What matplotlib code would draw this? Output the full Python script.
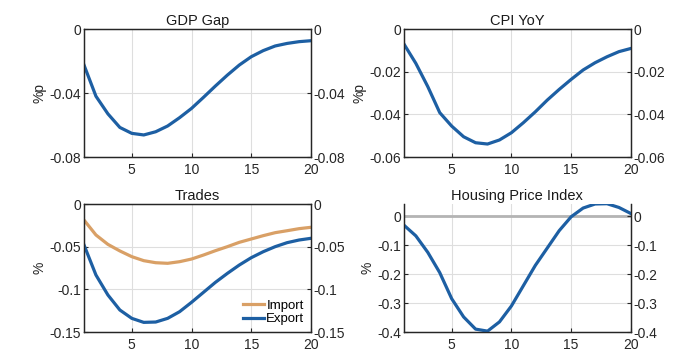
import numpy as np
import matplotlib
matplotlib.use("Agg")
import matplotlib.pyplot as plt

plt.rcParams['font.family'] = ['Liberation Sans', 'DejaVu Sans']

# horizon (quarters)
x = np.arange(1, 21)

# impulse responses
gdp_gap = [-0.0225, -0.042, -0.053, -0.0615, -0.0652, -0.0662, -0.0642, -0.0606, -0.0554, -0.0496,
           -0.0427, -0.0356, -0.0288, -0.0225, -0.0173, -0.0135, -0.0106, -0.0090, -0.0079, -0.0073]
cpi_yoy = [-0.0070, -0.0161, -0.0270, -0.0392, -0.0455, -0.0505, -0.0533, -0.0539, -0.0520, -0.0486,
           -0.0439, -0.0388, -0.0333, -0.0283, -0.0236, -0.0192, -0.0158, -0.0130, -0.0106, -0.0091]
trade_import = [-0.0188, -0.0363, -0.0473, -0.0550, -0.0617, -0.0664, -0.0688, -0.0695, -0.0676, -0.0645,
                -0.0598, -0.0547, -0.0500, -0.0449, -0.0410, -0.0371, -0.0336, -0.0313, -0.0289, -0.0273]
trade_export = [-0.0480, -0.0832, -0.1066, -0.1242, -0.1340, -0.1387, -0.1383, -0.1340, -0.1262, -0.1152,
                -0.1035, -0.0918, -0.0813, -0.0715, -0.0629, -0.0559, -0.0500, -0.0453, -0.0422, -0.0402]
housing = [-0.031, -0.068, -0.125, -0.195, -0.285, -0.348, -0.390, -0.397, -0.365, -0.310,
           -0.240, -0.170, -0.110, -0.050, -0.002, 0.028, 0.042, 0.043, 0.030, 0.009]

titles = ['GDP Gap', 'CPI YoY', 'Trades', 'Housing Price Index']
ylabels = ['%p', '%p', '%', '%']
yticks = [[-0.08, -0.04, 0], [-0.06, -0.04, -0.02, 0], [-0.15, -0.1, -0.05, 0], [-0.4, -0.3, -0.2, -0.1, 0]]
ytick_labels = [['-0.08', '-0.04', '0'], ['-0.06', '-0.04', '-0.02', '0'],
                ['-0.15', '-0.1', '-0.05', '0'], ['-0.4', '-0.3', '-0.2', '-0.1', '0']]
ylims = [(-0.08, 0), (-0.06, 0), (-0.15, 0), (-0.4, 0.042)]

blue = '#1d5fa3'
tan = '#d9a066'
axcol = '#262626'

fig = plt.figure(figsize=(7, 3.61), dpi=100)
pos = [[0.12, 0.565, 0.3243, 0.3546], [0.577, 0.565, 0.3243, 0.3546],
       [0.12, 0.0803, 0.3243, 0.3546], [0.577, 0.0803, 0.3243, 0.3546]]

axes = []
for i in range(4):
    ax = fig.add_axes(pos[i])
    ax.set_xlim(1, 20)
    ax.set_ylim(*ylims[i])
    ax.set_xticks([5, 10, 15, 20])
    ax.set_yticks(yticks[i])
    ax.set_yticklabels(ytick_labels[i])
    ax.grid(True, color='#dedede', lw=0.8)
    ax.set_axisbelow(True)
    ax.tick_params(direction='in', length=3, labelsize=10, colors=axcol, pad=2)
    ax.tick_params(axis='x', pad=4)
    for s in ax.spines.values():
        s.set_color(axcol)
        s.set_linewidth(0.9)
    ax.set_title(titles[i], fontsize=10.5, color='#1a1a1a', pad=3)
    ax.set_ylabel(ylabels[i], fontsize=10, color=axcol, labelpad=2)
    # right hand axis mirrors the left
    ax2 = ax.twinx()
    ax2.set_ylim(*ylims[i])
    ax2.set_yticks(yticks[i])
    ax2.set_yticklabels(ytick_labels[i])
    ax2.tick_params(direction='in', length=3, labelsize=10, colors=axcol, pad=2)
    for s in ax2.spines.values():
        s.set_color(axcol)
        s.set_linewidth(0.9)
    axes.append((ax, ax2))

axes[0][0].plot(x, gdp_gap, color=blue, lw=2.3)
axes[1][0].plot(x, cpi_yoy, color=blue, lw=2.3)

ax = axes[2][0]
ax.plot(x, trade_import, color=tan, lw=2.3, label='Import')
ax.plot(x, trade_export, color=blue, lw=2.3, label='Export')
leg = ax.legend(loc='lower right', frameon=False, fontsize=9.5, handlelength=1.6,
                handletextpad=0.2, borderaxespad=0.1, labelspacing=0.1)

ax = axes[3][0]
ax.axhline(0, color='#b4b4b4', lw=2, zorder=2)
ax.plot(x, housing, color=blue, lw=2.3, zorder=3)
for a in axes[3]:
    a.spines['top'].set_visible(False)

fig.savefig('out.png', dpi=100)
